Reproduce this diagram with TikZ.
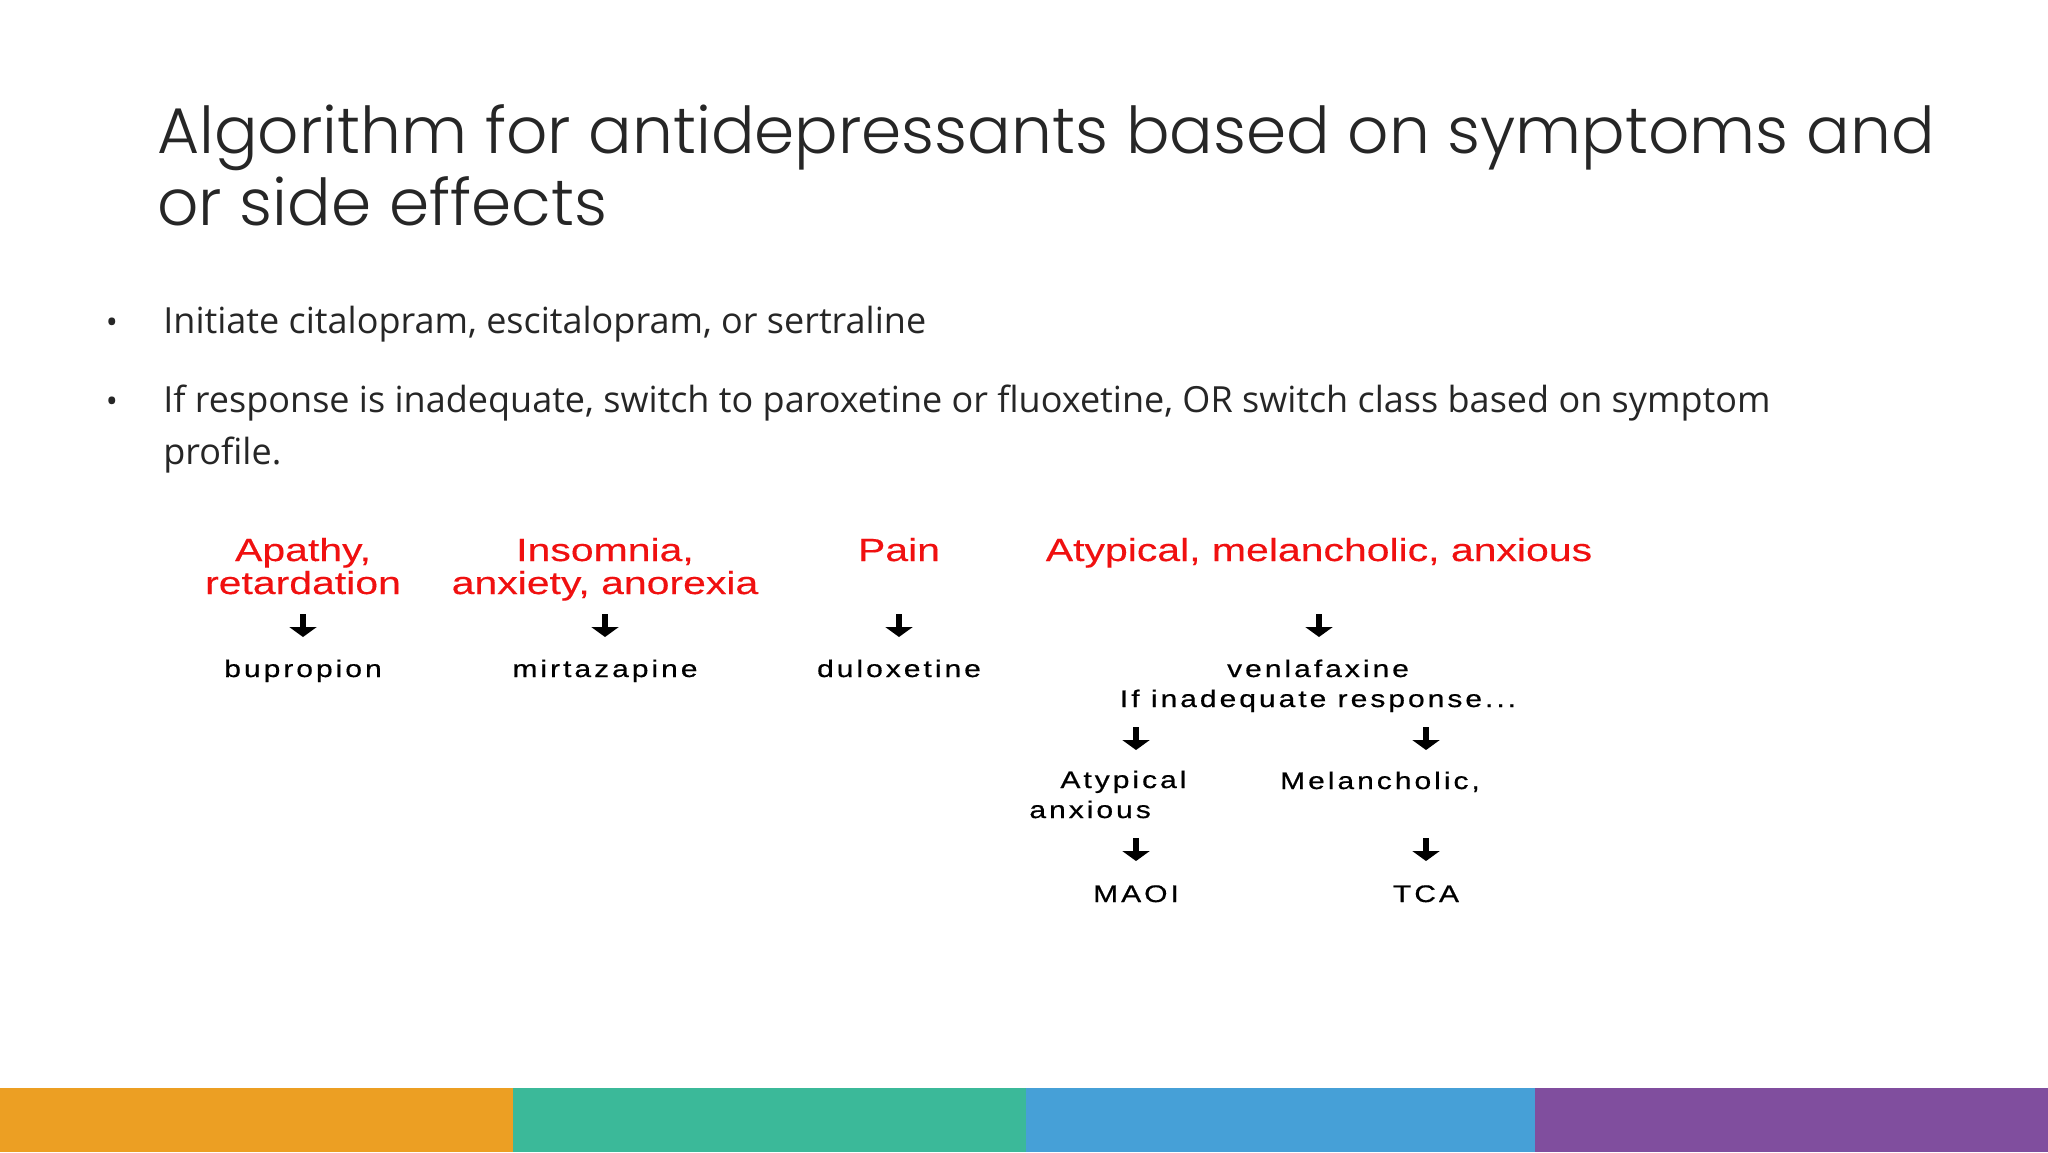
\documentclass[tikz,border=0pt]{standalone}
\usepackage{fontspec}
\setmainfont{Open Sans}
\newfontfamily\titlefont{Poppins Light}
\newfontfamily\diagfont[FakeStretch=1.28,FakeBold=0.3]{Liberation Sans}
\newfontfamily\smallfont[FakeStretch=1.25,LetterSpace=12.5,FakeBold=0.6]{Liberation Sans}
\usetikzlibrary{arrows.meta}
\definecolor{ink}{HTML}{262626}
\definecolor{symred}{HTML}{F01010}
\definecolor{barA}{HTML}{EC9F23}
\definecolor{barB}{HTML}{3BB999}
\definecolor{barC}{HTML}{46A0D7}
\definecolor{barD}{HTML}{804E9E}
\begin{document}
\begin{tikzpicture}[x=0.5pt,y=-0.5pt,
  titletext/.style={font=\titlefont\fontsize{32.3}{36}\selectfont, text=ink, inner sep=0, anchor=base west, align=left},
  bodytext/.style={font=\fontsize{18}{26}\selectfont, text=ink, inner sep=0, anchor=base west, align=left},
  bulletdot/.style={font=\fontsize{16}{26}\selectfont, text=ink, inner sep=0, anchor=base},
  symptom/.style={font=\diagfont\fontsize{16}{16.5}\selectfont, text=symred, inner sep=0, anchor=base, align=center},
  drug/.style={font=\smallfont\fontsize{12}{15}\selectfont, text=black, inner sep=0, anchor=base, align=center},
  downarrow/.style={line width=3pt, -{Triangle[width=13.5pt,length=5pt]}},
]
\useasboundingbox (0,0) rectangle (2048,1152);
\fill[white] (0,0) rectangle (2048,1152);
% title
\node[titletext] (title) at (157,225) {Algorithm for antidepressants based on symptoms and\\or side effects};
% bullets
\node[bulletdot] (d1) at (112,333) {•};
\node[bodytext] (b1) at (163,333) {Initiate citalopram, escitalopram, or sertraline};
\node[bulletdot] (d2) at (112,412) {•};
\node[bodytext] (b2) at (163,464) {If response is inadequate, switch to paroxetine or fluoxetine, OR switch class based on symptom\\profile.};
% symptom headings
\node[symptom] (s1) at (303,594) {Apathy,\\retardation};
\node[symptom] (s2) at (605,594) {Insomnia,\\anxiety, anorexia};
\node[symptom] (s3) at (899,561) {Pain};
\node[symptom] (s4) at (1319,561) {Atypical, melancholic, anxious};
% drugs
\node[drug] (r1) at (303,677) {bupropion};
\node[drug] (r2) at (605,677) {mirtazapine};
\node[drug] (r3) at (899,677) {duloxetine};
\node[drug] (r4) at (1318,707) {venlafaxine\\If inadequate response...};
\node[drug, align=left, anchor=base west] (r5) at (1029,818) {\hspace*{15.5pt}Atypical\\anxious};
\node[drug] (r6) at (1380,789) {Melancholic,};
\node[drug] (r7) at (1136,902) {MAOI};
\node[drug] (r8) at (1426,902) {TCA};
% arrow coordinates
\coordinate (a1t) at (303,614); \coordinate (a1b) at (303,637);
\coordinate (a2t) at (605,614); \coordinate (a2b) at (605,637);
\coordinate (a3t) at (899,614); \coordinate (a3b) at (899,637);
\coordinate (a4t) at (1319,614); \coordinate (a4b) at (1319,637);
\coordinate (a5t) at (1136,727); \coordinate (a5b) at (1136,750);
\coordinate (a6t) at (1426,727); \coordinate (a6b) at (1426,750);
\coordinate (a7t) at (1136,838); \coordinate (a7b) at (1136,861);
\coordinate (a8t) at (1426,838); \coordinate (a8b) at (1426,861);
\foreach \k in {1,...,8} {\draw[downarrow] (a\k t) -- (a\k b);}
% bottom bar
\fill[barA] (0,1088) rectangle (513,1152);
\fill[barB] (513,1088) rectangle (1026,1152);
\fill[barC] (1026,1088) rectangle (1535,1152);
\fill[barD] (1535,1088) rectangle (2048,1152);
\end{tikzpicture}
\end{document}
